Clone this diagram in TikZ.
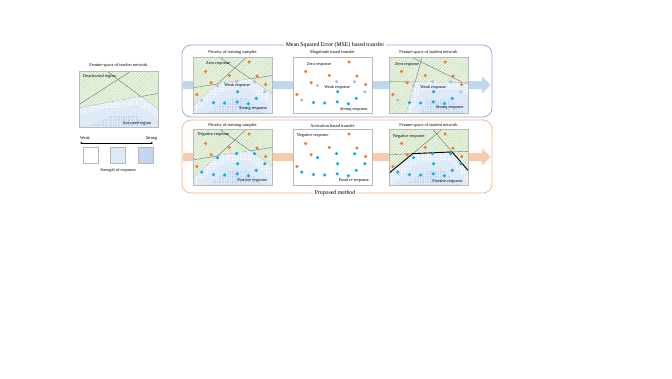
\documentclass[tikz,border=0pt]{standalone}
\usepackage{fontspec}
\setmainfont{Liberation Serif}
\usetikzlibrary{patterns.meta,arrows.meta}
\definecolor{obord}{RGB}{244,177,131}
\definecolor{bbord}{RGB}{143,170,220}
\definecolor{bband}{RGB}{189,215,238}
\definecolor{oband}{RGB}{248,203,173}
\definecolor{hatchfill}{RGB}{236,244,230}
\definecolor{hatchline}{RGB}{176,212,150}
\definecolor{actA}{RGB}{243,248,253}
\definecolor{actB}{RGB}{220,233,247}
\definecolor{actC}{RGB}{195,216,240}
\definecolor{gridc}{RGB}{224,234,247}
\definecolor{dotO}{RGB}{237,125,49}
\definecolor{dotW}{RGB}{157,195,230}
\definecolor{dotS}{RGB}{0,176,240}
\definecolor{pbord}{RGB}{185,185,185}
\definecolor{lineg}{RGB}{105,105,105}
\newcommand{\hatchbg}{%
  \fill[hatchfill] (0,0) rectangle (1,1);
  \fill[pattern={Lines[angle=45,distance=2.2pt,line width=0.3pt]}, pattern color=hatchline] (0,0) rectangle (1,1);}
\newcommand{\actregion}[3]{%
  \fill[actA] #1 -- cycle;
  \fill[actB] #2 -- cycle;
  \fill[actC] #3 -- cycle;
  \fill[pattern={Hatch[angle=0,distance=2.6pt,line width=0.1pt]}, pattern color=gridc] #1 -- cycle;}
\newcommand{\orangedots}{\foreach \a/\b in {0.71/0.09,0.16/0.26,0.46/0.33,0.81/0.34,0.23/0.46,0.92/0.49,0.05/0.67} {\fill[dotO] (\a,\b) circle (1.75pt);}}
\newcommand{\weakdots}[1]{\foreach \a/\b in {0.31/0.51,0.55/0.44,0.78/0.44,0.91/0.62,0.11/0.77} {\fill[#1] (\a,\b) circle (1.75pt);}}
\newcommand{\strongdots}{\foreach \a/\b in {0.565/0.62,0.26/0.815,0.40/0.82,0.56/0.80,0.70/0.835,0.80/0.74} {\fill[dotS] (\a,\b) circle (1.75pt);}}
\newcommand{\geomone}{%
  \hatchbg
  \draw[glines] (0.33,0) -- (1,0.66);
  \draw[glines] (0.68,0) -- (0,0.88);
  \draw[glines] (0,0.55) -- (1,0.33);
  \actregion{(0,0.88) -- (0.307,0.482) -- (0.726,0.390) -- (1,0.66) -- (1,1) -- (0,1)}{(0.02,1) -- (0.36,0.62) -- (0.70,0.55) -- (0.95,0.85) -- (0.97,1)}{(0.18,1) -- (0.42,0.76) -- (0.68,0.72) -- (0.88,1)}}
\begin{document}
\begin{tikzpicture}[x=1pt,y=-1pt,
  lbl/.style={font=\fontsize{4.3}{5}\selectfont, inner sep=0pt},
  ttl/.style={font=\fontsize{4.4}{5}\selectfont, inner sep=0pt},
  big/.style={font=\fontsize{5.8}{7}\selectfont, inner sep=1.5pt, fill=white},
  glines/.style={draw=lineg, line width=0.35pt},
  pframe/.style={draw=pbord, line width=0.45pt},
  sq/.style={draw=pbord, line width=0.45pt, minimum width=15pt, minimum height=16pt, inner sep=0pt}]
\path[use as bounding box, fill=white] (0,0) rectangle (672,378);

% ---------- teacher ----------
\node[ttl] (tteach) at (118.5,65) {Feature space of teacher network};
\begin{scope}[shift={(79,71)},x=79pt,y=-56pt]
  \hatchbg
  \draw[glines] (0.35,0) -- (1,0.68);
  \draw[glines] (0.66,0) -- (0,0.60);
  \draw[glines] (0,0.66) -- (1,0.40);
  \actregion{(0,0.66) -- (0.786,0.456) -- (1,0.68) -- (1,1) -- (0,1)}{(0,0.82) -- (0.30,0.68) -- (0.74,0.62) -- (1,0.86) -- (1,1) -- (0,1)}{(0.10,1) -- (0.40,0.80) -- (0.72,0.78) -- (0.92,1)}
  \draw[pframe] (0,0) rectangle (1,1);
  \node[lbl] (tdeact) at (0.26,0.09) {Deactivated region};
  \node[lbl] (tact) at (0.73,0.93) {Activated region};
\end{scope}

% ---------- legend ----------
\node[lbl] (lweak) at (85,138.5) {Weak};
\node[lbl] (lstrong) at (151.5,138.5) {Strong};
\coordinate (la) at (80,143);
\coordinate (lb) at (153,143);
\draw[{Stealth[length=2.2pt,width=2pt]}-{Stealth[length=2.2pt,width=2pt]}, line width=0.5pt] (la) -- (lb);
\node[sq, fill=white] (sq1) at (90.5,155) {};
\node[sq, fill=actB] (sq2) at (118,155) {};
\node[sq, fill=actC] (sq3) at (145.5,155) {};
\node[lbl] (lstr) at (118,170) {Strength of response};

% ---------- frames and bands ----------
\draw[bbord, line width=0.7pt, rounded corners=9pt] (182,45) rectangle (492,117);
\fill[bband] (183,81) -- (482,81) -- (482,76.5) -- (490.5,85) -- (482,93.5) -- (482,89) -- (183,89) -- cycle;
\draw[obord, line width=0.7pt, rounded corners=9pt] (182,120) rectangle (492,193);
\fill[oband] (183,153) -- (482,153) -- (482,148.5) -- (490.5,157) -- (482,165.5) -- (482,161) -- (183,161) -- cycle;
\node[big] (mse) at (335,45) {Mean Squared Error (MSE) based transfer};
\node[big] (prop) at (335,193) {Proposed method};

% ---------- top row ----------
\node[ttl] (t1) at (232.5,52.5) {Priority of training samples};
\node[ttl] (t2) at (332.5,52.5) {Magnitude based transfer};
\node[ttl] (t3) at (428.5,52.5) {Feature space of student network};
\begin{scope}[shift={(193,57)},x=79pt,y=-56pt]
  \geomone
  \draw[pframe] (0,0) rectangle (1,1);
  \orangedots \weakdots{dotW} \strongdots
  \node[lbl] (a1z) at (0.32,0.12) {Zero response};
  \node[lbl] (a1w) at (0.56,0.505) {Weak response};
  \node[lbl] (a1s) at (0.76,0.92) {Strong response};
\end{scope}
\begin{scope}[shift={(293,57)},x=79pt,y=-56pt]
  \fill[white] (0,0) rectangle (1,1);
  \draw[pframe] (0,0) rectangle (1,1);
  \orangedots \weakdots{dotW} \strongdots
  \node[lbl] (a2z) at (0.33,0.13) {Zero response};
  \node[lbl] (a2w) at (0.56,0.55) {Weak response};
  \node[lbl] (a2s) at (0.77,0.93) {Strong response};
\end{scope}
\begin{scope}[shift={(389,57)},x=79pt,y=-56pt]
  \hatchbg
  \draw[glines] (0.28,0) -- (1,0.50);
  \draw[glines] (0.42,0) -- (0.22,1);
  \draw[glines] (0,0.44) -- (1,0.46);
  \actregion{(0.22,1) -- (0.331,0.447) -- (0.941,0.459) -- (1,0.50) -- (1,1)}{(0.30,1) -- (0.39,0.60) -- (0.86,0.59) -- (1,0.68) -- (1,1)}{(0.40,1) -- (0.47,0.77) -- (0.78,0.75) -- (0.95,1)}
  \draw[pframe] (0,0) rectangle (1,1);
  \orangedots \weakdots{dotW} \strongdots
  \node[lbl] (a3z) at (0.23,0.14) {Zero response};
  \node[lbl] (a3w) at (0.56,0.54) {Weak response};
  \node[lbl] (a3s) at (0.77,0.90) {Strong response};
\end{scope}

% ---------- bottom row ----------
\node[ttl] (b1t) at (232.5,125.5) {Priority of training samples};
\node[ttl] (b2t) at (332.5,125.5) {Activation based transfer};
\node[ttl] (b3t) at (428.5,125.5) {Feature space of student network};
\begin{scope}[shift={(193,129)},x=79pt,y=-56pt]
  \geomone
  \draw[pframe] (0,0) rectangle (1,1);
  \orangedots \weakdots{dotS} \strongdots
  \node[lbl] (b1n) at (0.26,0.10) {Negative response};
  \node[lbl] (b1p) at (0.75,0.92) {Positive response};
\end{scope}
\begin{scope}[shift={(293,129)},x=79pt,y=-56pt]
  \fill[white] (0,0) rectangle (1,1);
  \draw[pframe] (0,0) rectangle (1,1);
  \orangedots \weakdots{dotS} \strongdots
  \node[lbl] (b2n) at (0.25,0.11) {Negative response};
  \node[lbl] (b2p) at (0.77,0.92) {Positive response};
\end{scope}
\begin{scope}[shift={(389,129)},x=79pt,y=-56pt]
  \hatchbg
  \draw[glines] (0.55,0) -- (1,0.74);
  \draw[glines] (0.677,0) -- (0,0.79);
  \draw[glines] (0,0.458) -- (1,0.398);
  \actregion{(0,0.79) -- (0.30,0.44) -- (0.80,0.41) -- (1,0.74) -- (1,1) -- (0,1)}{(0.03,1) -- (0.36,0.60) -- (0.76,0.57) -- (0.98,0.92) -- (0.98,1)}{(0.2,1) -- (0.44,0.76) -- (0.70,0.73) -- (0.88,1)}
  \draw[line width=0.9pt, black] (0,0.79) -- (0.30,0.44) -- (0.80,0.41) -- (1,0.74);
  \draw[pframe] (0,0) rectangle (1,1);
  \orangedots \weakdots{dotS} \strongdots
  \node[lbl] (b3n) at (0.25,0.13) {Negative response};
  \node[lbl] (b3p) at (0.74,0.93) {Positive response};
\end{scope}
\end{tikzpicture}
\end{document}
